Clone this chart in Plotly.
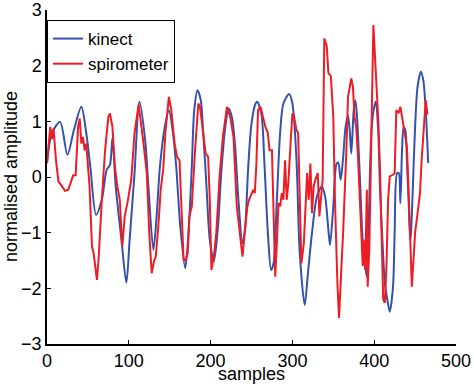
import plotly.graph_objects as go

kinect_x = [0, 6, 16, 25, 33, 42, 48, 53, 60, 67, 73, 77, 80, 84, 91, 97, 101, 107, 113,
            120, 124, 130, 134, 138, 144, 149, 154, 158, 163, 169, 173, 177, 180, 184, 188,
            191, 195, 199, 204, 209, 213, 218, 222, 226, 230, 234, 239, 242, 246, 250, 255,
            257, 262, 266, 270, 274, 277, 281, 285, 289, 296, 300, 305, 309, 315, 319, 324,
            330, 336, 340, 344, 346, 350, 354, 356, 359, 362, 365, 368, 370, 372, 375, 377,
            379, 381, 383, 385, 387, 389, 391, 393, 395, 397, 400, 402, 405, 407, 410, 413,
            416, 419, 423, 425, 428, 430, 432, 434, 436, 438, 440, 442, 444, 445, 447, 450,
            453, 457, 460, 463, 466]
kinect_y = [0.25, 0.79, 0.99, 0.4, 0.85, 1.26, 0.79, 0.18, -0.68, -0.41, 0.13, 0.22, 0.7, -0.17,
            -1.13, -1.9, -1.13, 0.07, 1.35, 0.66, -0.17, -1.31, -0.71, 0.18, 0.9, 1.2, 0.79,
            0.18, -0.9, -1.64, -1.0, 0.18, 1.2, 1.56, 1.38, 0.79, -0.17, -1.13, -1.52, -0.9,
            0.07, 0.9, 1.23, 1.08, 0.54, -0.41, -1.19, -0.95, 0.18, 0.96, 1.32, 1.35, 1.14,
            0.18, -1.0, -1.67, -1.55, -0.41, 0.79, 1.32, 1.49, 1.32, 0.3, -1.37, -2.3, -1.73,
            -1.0, -0.35, -0.17, -0.35, -0.95, -1.22, -0.53, 0.24, 0.26, -0.05, 0.35, 0.9, 1.1,
            0.85, 0.42, 1.2, 1.38, 1.08, 0.48, -0.17, -0.9, -1.37, -1.6, -1.79, -1.0, 0.18,
            0.9, 1.26, 1.35, 0.79, -0.17, -1.13, -1.9, -2.2, -2.42, -1.97, -1.0, 0.07, 0.07,
            -0.47, 0.48, 0.9, 0.85, 0.3, -0.41, -1.13, -1.0, -0.29, 0.9, 1.62, 1.89, 1.74,
            1.2, 0.25]

spiro_x = [0, 4, 6, 8, 11, 14, 18, 22, 26, 30, 32, 35, 38, 40, 42, 44, 46, 48, 52, 55, 57, 61,
           63, 67, 71, 75, 77, 80, 83, 86, 89, 92, 95, 99, 103, 107, 112, 118, 122, 125, 128,
           131, 133, 136, 139, 142, 145, 149, 152, 156, 159, 162, 164, 167, 169, 172, 174, 177,
           181, 185, 187, 191, 194, 197, 199, 201, 204, 207, 211, 215, 220, 224, 228, 232, 236,
           239, 242, 245, 247, 250, 252, 254, 256, 258, 261, 264, 267, 270, 272, 275, 277, 279,
           281, 283, 285, 287, 289, 291, 293, 295, 298, 300, 302, 305, 307, 309, 311, 314, 317,
           318, 320, 322, 324, 326, 328, 331, 333, 335, 337, 339, 342, 344, 347, 350, 352, 355,
           357, 360, 362, 366, 368, 372, 374, 376, 378, 380, 382, 384, 386, 387, 389, 391, 392,
           394, 397, 399, 402, 405, 407, 409, 411, 413, 415, 417, 419, 423, 425, 427, 430, 432,
           434, 436, 438, 440, 442, 444, 446, 448, 450, 452, 454, 456, 458, 460, 462, 463, 465,
           466]
spiro_y = [0.25, 0.9, 0.68, 0.87, 0.3, -0.08, -0.16, -0.25, -0.23, -0.05, 0.03, 0.03, 0.9, 1.05,
           0.6, 0.72, 0.48, 0.6, -0.17, -1.25, -1.37, -1.85, -1.5, -0.41, 0.48, 1.08, 1.14, 0.9,
           0.18, -0.17, -0.41, -1.25, -0.71, -0.41, -0.05, 0.79, 1.3, 0.6, 0.07, -1.0, -1.73,
           -1.5, -1.43, -0.9, -0.23, 0.13, 0.84, 1.44, 1.2, 0.6, 0.36, 0.3, -0.53, -1.49, -1.5,
           -1.37, -0.71, -0.53, 0.48, 1.32, 1.26, 0.79, 0.42, 0.36, -0.41, -1.67, -1.43, -1.0,
           0.01, 0.72, 1.26, 1.08, 0.72, -0.53, -1.1, -1.43, -0.95, -0.53, -0.41, -0.29, -0.23,
           -0.29, 0.24, 1.2, 1.26, 1.08, 0.9, 0.79, 0.48, 0.48, -0.71, -1.79, -1.19, -0.47,
           -0.53, -0.29, -0.41, 0.3, -0.41, -0.11, 0.66, 1.14, 1.08, 0.84, 0.79, -0.41, -1.55,
           -1.19, -0.17, 0.07, -0.41, 0.24, -0.65, -0.17, -0.05, 0.07, -0.71, -0.29, -0.05,
           2.49, 2.35, 1.87, 1.81, 1.08, -0.41, -1.9, -2.53, -1.6, -1.0, 0.48, 1.44, 1.77, 1.62,
           1.08, 0.9, 0.42, -0.23, -1.0, -1.6, -1.13, -1.67, -0.23, -1.97, -1.31, 1.5, 2.73,
           1.87, 1.02, 0.18, -1.0, -2.2, -2.26, -1.6, -0.41, 0.01, 0.04, 0.07, 1.2, 1.15, 1.26,
           1.08, 0.9, 0.79, 0.54, -0.23, -1.31, -1.97, -1.49, -1.0, -0.77, -0.53, -0.29, 0.3,
           0.79, 1.2, 1.38, 1.14, 1.14]

x_ticks = [0, 100, 200, 300, 400, 500]
y_ticks = [-3, -2, -1, 0, 1, 2, 3]
x_title = "samples"
y_title = "normalised amplitude"

FONT = "Liberation Sans, Arial, Helvetica, sans-serif"

fig = go.Figure()
fig.add_trace(go.Scatter(x=kinect_x, y=kinect_y, mode="lines", name="kinect",
                         line=dict(color="#3452ad", width=2, shape="spline", smoothing=0.8)))
fig.add_trace(go.Scatter(x=spiro_x, y=spiro_y, mode="lines", name="spirometer",
                         line=dict(color="#ee1c24", width=2)))

fig.update_layout(
    width=474, height=387,
    margin=dict(l=47, r=18, t=10, b=43, autoexpand=False),
    paper_bgcolor="white", plot_bgcolor="white",
    font=dict(family=FONT, size=18, color="black"),
    showlegend=True,
    legend=dict(x=0.0, y=0.97, xanchor="left", yanchor="top",
                bordercolor="black", borderwidth=1, bgcolor="white",
                font=dict(size=17), itemwidth=30, tracegroupgap=0),
    xaxis=dict(range=[0, 500], tickvals=x_ticks, ticks="inside", ticklen=4,
               tickcolor="black", showline=True, linecolor="black", linewidth=1.5,
               showgrid=False, zeroline=False, automargin=False,
               tickfont=dict(size=18)),
    yaxis=dict(range=[-3, 3], tickvals=y_ticks, ticks="inside", ticklen=4,
               tickcolor="black", showline=True, linecolor="black", linewidth=1.5,
               showgrid=False, zeroline=False, automargin=False,
               tickfont=dict(size=18)),
    annotations=[
        dict(text=x_title, xref="paper", yref="paper", x=0.5, y=0, yshift=-30,
             xanchor="center", yanchor="middle", showarrow=False, font=dict(size=18)),
        dict(text=y_title, xref="paper", yref="paper", x=0, y=0.5, xshift=-36,
             xanchor="center", yanchor="middle", textangle=-90, showarrow=False,
             font=dict(size=18)),
    ],
)

fig.write_html("out.html", config={"displayModeBar": False},
               post_script="document.body.style.margin='0';document.body.style.overflow='hidden';")
